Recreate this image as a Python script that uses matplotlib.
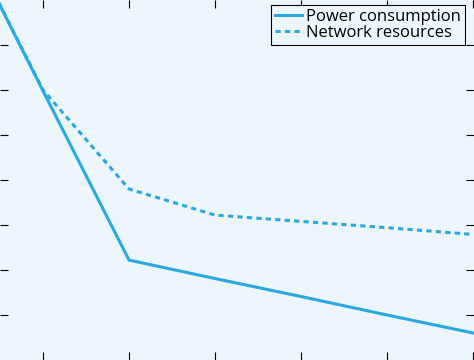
import matplotlib
matplotlib.use("Agg")
import matplotlib.pyplot as plt

# values (axis labels are cropped out of the reference)
x = [0, 1, 2, 3, 4, 5, 6]
power = [9.78, 5.98, 2.22, 1.81, 1.41, 1.00, 0.60]
network = [9.78, 6.00, 3.80, 3.22, 3.08, 2.94, 2.79]
labels = ["Power consumption", "Network resources"]

line_col = "#29a9e1"
bg = "#eef6fd"

fig = plt.figure(figsize=(4.74, 3.6), dpi=100)
fig.patch.set_facecolor(bg)
ax = fig.add_axes([0, 0, 1, 1])
ax.set_facecolor(bg)

ax.plot(x, power, color=line_col, lw=2.2, label=labels[0])
ax.plot(x, network, color=line_col, lw=2.2, dashes=(1.7, 1.4), label=labels[1])

ax.set_xlim(0.5, 6.01)
ax.set_ylim(0, 8)
ax.set_xticks(range(1, 7))
ax.set_yticks(range(1, 8))
ax.tick_params(direction="in", length=6, width=0.8, color="black",
               top=True, right=True, labelbottom=False, labelleft=False)
for s in ax.spines.values():
    s.set_visible(False)

leg = ax.legend(loc="upper right", bbox_to_anchor=(465 / 474, 1 - 5 / 360),
                bbox_transform=fig.transFigure, borderaxespad=0,
                prop={"family": "Open Sans", "size": 12},
                handlelength=1.6, handletextpad=0.25, borderpad=0.25,
                labelspacing=0.0, fancybox=False, framealpha=1)
leg.get_frame().set_edgecolor("black")
leg.get_frame().set_linewidth(0.8)
leg.get_frame().set_facecolor(bg)

fig.savefig("out.png", dpi=100, facecolor=bg)
